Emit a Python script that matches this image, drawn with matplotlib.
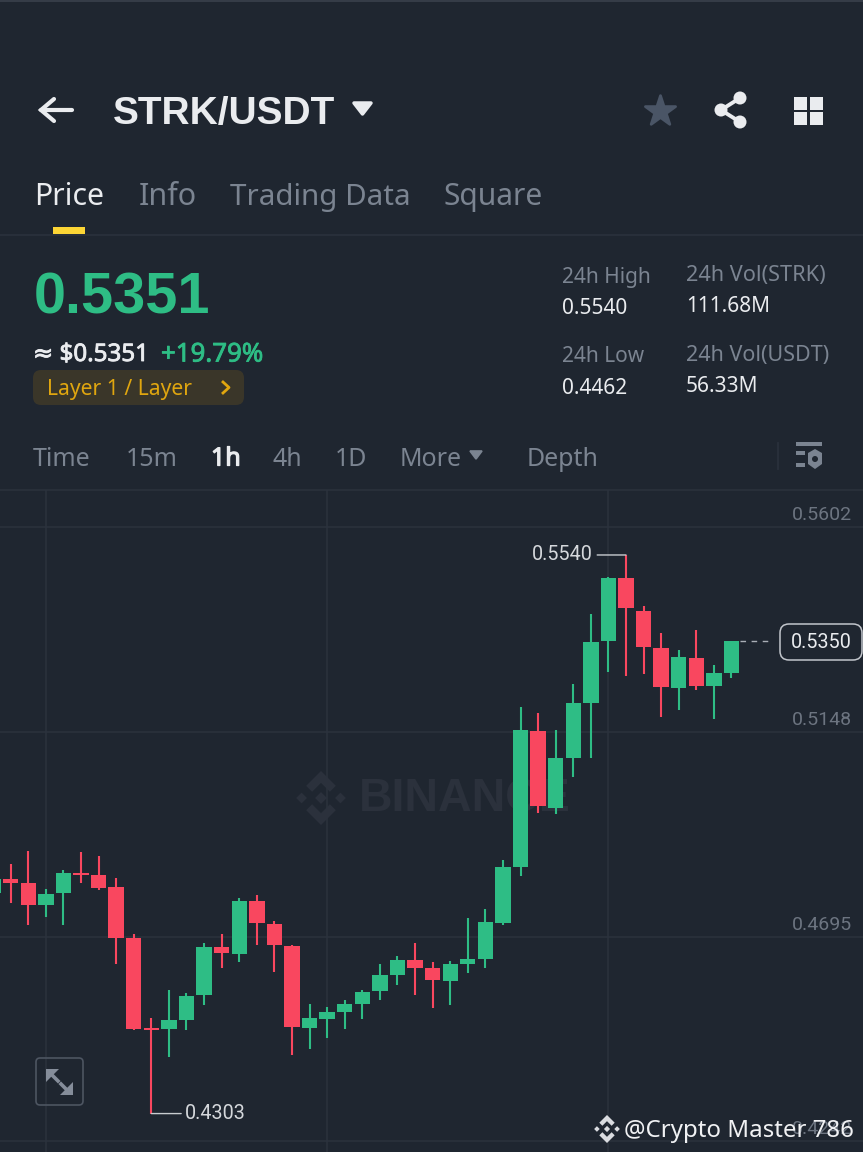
import matplotlib
matplotlib.use('Agg')
import matplotlib.pyplot as plt
import matplotlib.patheffects as pe
from matplotlib.patches import Rectangle, FancyBboxPatch, Polygon, Circle

plt.rcParams['font.family'] = ['Noto Sans', 'DejaVu Sans']

# candles, oldest first
opens = [.4791, .4822, .4814, .4764, .4791, .4836, .4831, .4804, .4691, .4492, .4490,
         .4511, .4566, .4671, .4656, .4774, .4722, .4675, .4493, .4512, .4527, .4546,
         .4574, .4609, .4642, .4625, .4597, .4634, .4645, .4725, .4850, .5151, .4980,
         .5091, .5213, .5350, .5488, .5417, .5335, .5246, .5311, .5250, .5279]
closes = [.4822, .4814, .4765, .4790, .4836, .4831, .4803, .4692, .4491, .4487, .4510,
          .4564, .4671, .4659, .4774, .4726, .4676, .4495, .4514, .4527, .4545, .4572,
          .4610, .4644, .4625, .4598, .4635, .4645, .4727, .4850, .5153, .4984, .5091,
          .5212, .5348, .5490, .5423, .5336, .5247, .5313, .5250, .5279, .5350]
highs = [.4831, .4856, .4885, .4800, .4842, .4882, .4873, .4825, .4700, .4515, .4577,
         .4571, .4680, .4701, .4781, .4786, .4729, .4676, .4546, .4538, .4555, .4576,
         .4634, .4651, .4680, .4639, .4641, .4735, .4755, .4865, .5204, .5190, .5152,
         .5254, .5409, .5492, .5540, .5427, .5368, .5330, .5374, .5296, .5350]
lows = [.4776, .4769, .4721, .4739, .4721, .4813, .4798, .4634, .4487, .4303, .4429,
        .4488, .4544, .4625, .4639, .4677, .4617, .4433, .4446, .4470, .4491, .4513,
        .4555, .4588, .4566, .4537, .4543, .4614, .4625, .4720, .4829, .4969, .4967,
        .5049, .5091, .5280, .5272, .5276, .5182, .5197, .5241, .5176, .5267]

price_ticks = [.5602, .5148, .4695, .4242]
time_grid = [3, 19, 35]
tab_names = ['Time', '15m', '1h', '4h', '1D', 'More', 'Depth']

BG = '#1F2630'
GREEN = '#2EBD85'
RED = '#F9475F'
GREY = '#7B8491'
GRID = '#2B323D'
WHITE = '#EAECEF'

W, H = 863, 1152
fig = plt.figure(figsize=(W / 100, H / 100), dpi=100, facecolor=BG)


def pixel_axes(z):
    a = fig.add_axes([0, 0, 1, 1], zorder=z)
    a.set_xlim(0, W)
    a.set_ylim(H, 0)
    a.axis('off')
    return a


under = pixel_axes(0)
top = pixel_axes(5)

# chart area
ax = fig.add_axes([0, 0, 1, (H - 490) / H], zorder=2)
ax.patch.set_alpha(0)
ax.set_xlim(0.392, 49.48)
ax.set_ylim(.42179, .56839)
for s in ax.spines.values():
    s.set_visible(False)
ax.spines['top'].set_visible(True)
ax.spines['top'].set_color(GRID)
ax.spines['top'].set_linewidth(1.1)
ax.set_yticks(price_ticks)
ax.set_xticks(time_grid)
ax.tick_params(length=0, labelleft=False, labelbottom=False)
ax.grid(True, color=GRID, linewidth=1.1)
ax.set_axisbelow(True)

xs = list(range(len(opens)))
colors = [GREEN if c >= o else RED for o, c in zip(opens, closes)]
ax.vlines(xs, lows, highs, colors=colors, linewidth=1.5, zorder=3)
ax.bar(xs, [abs(c - o) for o, c in zip(opens, closes)],
       bottom=[min(o, c) for o, c in zip(opens, closes)],
       width=0.875, color=colors, zorder=4)

# axis price labels
for p in price_ticks:
    ax.annotate(f'{p:.4f}', xy=(1, p), xycoords=('axes fraction', 'data'), xytext=(-11, 12),
                textcoords='offset pixels', ha='right', va='center', fontsize=14,
                family='Roboto', color='#6C7480', zorder=1)

# high / low markers
hi = highs.index(max(highs))
lo = lows.index(min(lows))
ax.annotate(f'{highs[hi]:.4f}', xy=(hi, highs[hi]), xytext=(-33, 0), textcoords='offset pixels',
            ha='right', va='center', fontsize=14.2, family='Roboto', color='#D5D8DC',
            arrowprops=dict(arrowstyle='-', color='#C8CCD0', lw=1, shrinkA=1, shrinkB=0), zorder=6)
ax.annotate(f'{lows[lo]:.4f}', xy=(lo, lows[lo]), xytext=(34, 0), textcoords='offset pixels',
            ha='left', va='center', fontsize=14.2, family='Roboto', color='#D5D8DC',
            arrowprops=dict(arrowstyle='-', color='#C8CCD0', lw=1, shrinkA=1, shrinkB=0), zorder=6)

# last price tag
last = closes[-1]
ax.plot([len(closes) - 1 + .5, 44.15], [last, last], color='#A9AEB6', lw=1, dashes=(4, 4), zorder=3)
top.add_patch(FancyBboxPatch((786, 630), 70, 24, boxstyle='round,pad=6,rounding_size=9',
                             fc=BG, ec='#C2C6CC', lw=1.1))
top.text(821.5, 642, f'{last:.4f}', ha='center', va='center', fontsize=14.2, family='Roboto', color=WHITE)

# BINANCE watermark under the candles
WM = '#2B313C'
under.text(359, 799, 'BINANCE', ha='left', va='center', fontsize=33.5, fontweight='bold',
           family='Liberation Sans', color=WM)


def diamond(a, cx, cy, r, color):
    a.add_patch(Polygon([(cx, cy - r), (cx + r, cy), (cx, cy + r), (cx - r, cy)], fc=color, ec='none'))


def logo(a, cx, cy, s, color):
    diamond(a, cx, cy, .22 * s, color)
    diamond(a, cx - .72 * s, cy, .2 * s, color)
    diamond(a, cx + .72 * s, cy, .2 * s, color)
    a.add_patch(Polygon([(cx, cy - s), (cx + .55 * s, cy - .45 * s), (cx + .33 * s, cy - .23 * s),
                         (cx, cy - .56 * s), (cx - .33 * s, cy - .23 * s), (cx - .55 * s, cy - .45 * s)],
                        fc=color, ec='none'))
    a.add_patch(Polygon([(cx, cy + s), (cx + .55 * s, cy + .45 * s), (cx + .33 * s, cy + .23 * s),
                         (cx, cy + .56 * s), (cx - .33 * s, cy + .23 * s), (cx - .55 * s, cy + .45 * s)],
                        fc=color, ec='none'))


logo(under, 321, 798, 27, WM)

# header
top.plot([0, W], [0.5, 0.5], color='#3A414C', lw=1.2)
top.plot([41, 72], [110, 110], color=WHITE, lw=3, solid_capstyle='round')
top.plot([54, 41, 54], [99, 110, 121], color=WHITE, lw=3, solid_capstyle='round', solid_joinstyle='miter')
top.text(113, 114, 'STRK/USDT', ha='left', va='center', fontsize=28, fontweight='bold',
         family='Liberation Sans', color=WHITE)
top.add_patch(Polygon([(354, 103), (371, 103), (362.5, 114)], fc=WHITE, ec=WHITE, lw=2.5, joinstyle='round'))

top.scatter([660], [111], marker='*', s=520, color='#4A5566', edgecolors='#4A5566', linewidths=2)
for (x0, y0) in [(740, 98), (721, 110), (740, 122)]:
    top.add_patch(Circle((x0, y0), 6.5, fc=WHITE, ec='none'))
top.plot([740, 721, 740], [98, 110, 122], color=WHITE, lw=2.8)
for x0 in (794, 810):
    for y0 in (97, 112):
        top.add_patch(Rectangle((x0, y0), 13.3, 13, fc=WHITE, ec='none'))

# tabs
top.text(34, 197, 'Price', ha='left', va='center', fontsize=21.8, color=WHITE)
top.text(139, 197, 'Info', ha='left', va='center', fontsize=22, color=GREY)
top.text(230, 197, 'Trading Data', ha='left', va='center', fontsize=21.3, color=GREY)
top.text(443, 197, 'Square', ha='left', va='center', fontsize=21.6, color=GREY)
top.add_patch(Rectangle((53, 227), 32, 6.5, fc='#FCD535', ec='none'))
top.plot([0, W], [234.5, 234.5], color=GRID, lw=1.2)

# price block
top.text(34, 298, '0.5351', ha='left', va='center', fontsize=41.5, fontweight='bold',
         family='Liberation Sans', color=GREEN)
medium = [pe.withStroke(linewidth=0.6, foreground=WHITE)]
medium_g = [pe.withStroke(linewidth=0.6, foreground=GREEN)]
top.text(33, 355, '≈ $0.5351', ha='left', va='center', fontsize=17.4, color=WHITE, path_effects=medium)
top.text(161, 355, '+19.79%', ha='left', va='center', fontsize=18.6, color=GREEN, path_effects=medium_g)
top.add_patch(FancyBboxPatch((41, 378), 195, 19, boxstyle='round,pad=8,rounding_size=8', fc='#3A3629', ec='none'))
top.text(47, 389, 'Layer 1 / Layer', ha='left', va='center', fontsize=15.2, color='#E0A60F')
top.plot([223, 229, 223], [382, 387.5, 393], color='#E0A60F', lw=2)

# 24h stats
for x, y, s, c, fs in [(562, 277, '24h High', GREY, 15), (562, 308, '0.5540', WHITE, 15),
                       (562, 357, '24h Low', GREY, 15), (562, 388, '0.4462', WHITE, 15),
                       (686, 276, '24h Vol(STRK)', GREY, 15.6), (686, 307, '111.68M', WHITE, 15),
                       (686, 356, '24h Vol(USDT)', GREY, 15.5), (686, 387, '56.33M', WHITE, 15)]:
    top.text(x, y, s, ha='left', va='center', fontsize=fs, color=c)

# interval row
tab_x = [33, 126, 211, 272, 335, 400, 527]
for x, s in zip(tab_x, tab_names):
    if s == '1h':
        top.text(x, 459, s, ha='left', va='center', fontsize=18, color=WHITE,
                 path_effects=[pe.withStroke(linewidth=0.9, foreground=WHITE)])
    else:
        top.text(x, 459, s, ha='left', va='center', fontsize=18, color=GREY)
top.add_patch(Polygon([(470, 451), (482, 451), (476, 459)], fc=GREY, ec=GREY, lw=1.2))
top.plot([777.5, 777.5], [443, 469], color=GRID, lw=1.2)
top.add_patch(Rectangle((796, 442), 26, 4, fc=GREY, ec='none'))
top.add_patch(Rectangle((796, 451), 9, 4, fc=GREY, ec='none'))
top.add_patch(Rectangle((796, 463), 9, 4, fc=GREY, ec='none'))
top.add_patch(Polygon([(815, 449), (822, 453), (822, 464), (815, 469), (808, 464), (808, 453)], fc=GREY, ec='none'))
top.add_patch(Circle((815, 459), 3, fc=BG, ec='none'))

# expand button
top.add_patch(FancyBboxPatch((38, 1060), 43, 43, boxstyle='round,pad=2,rounding_size=4',
                             fc='none', ec='#4D5561', lw=1.2))
ICON = '#858D9A'
top.plot([50, 58], [1073, 1081], color=ICON, lw=2.6)
top.plot([61, 69], [1084, 1092], color=ICON, lw=2.6)
top.add_patch(Polygon([(46, 1069), (59, 1069), (46, 1082)], fc=ICON, ec='none'))
top.add_patch(Polygon([(73, 1095), (60, 1095), (73, 1082)], fc=ICON, ec='none'))

# footer credit
logo(top, 607, 1129, 14, '#DADCE0')
top.text(624, 1131, '@Crypto Master 786', ha='left', va='center', fontsize=17.3, color='#F0F1F3')

fig.savefig('out.png', dpi=100, facecolor=BG)
